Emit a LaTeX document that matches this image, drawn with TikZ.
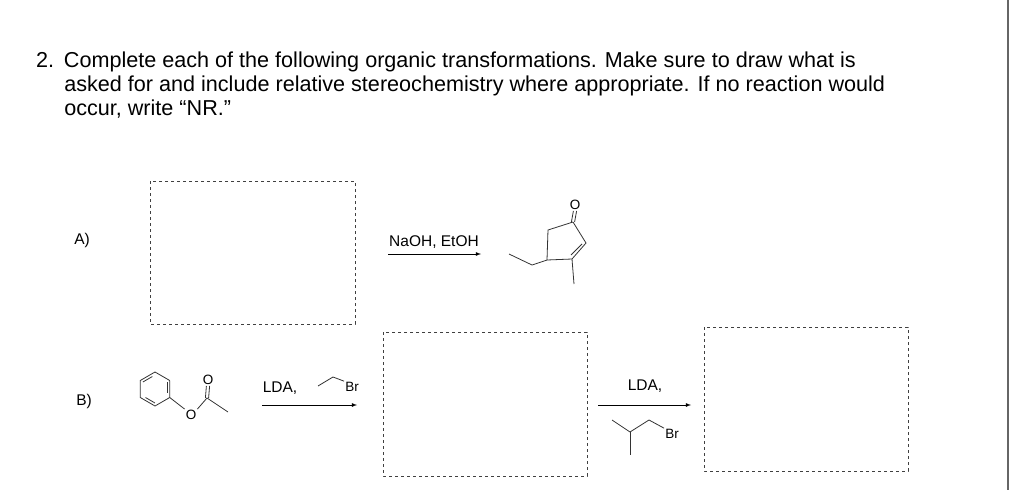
\documentclass[tikz,border=0pt]{standalone}
\usetikzlibrary{calc}
\usepackage{fontspec}
\setmainfont{Liberation Sans}
\begin{document}
\begin{tikzpicture}[x=1pt,y=-1pt,
  box/.style={draw=black!75,dashed,dash pattern=on 3pt off 3pt,line width=0.6pt},
  bond/.style={line width=0.8pt,black!80},
  rxn/.style={-latex,line width=0.8pt},
  lbl/.style={font=\fontsize{15.5}{18}\selectfont,inner sep=0pt},
  atom/.style={font=\fontsize{13.5}{15}\selectfont,inner sep=1pt}]
\useasboundingbox (0,0) rectangle (1010,490);
\draw[black!60,line width=1.5pt] (1008,0) -- (1008,490);
\node[anchor=north west,align=left,inner sep=0pt,font=\fontsize{21.6}{24}\selectfont] (q) at (36,52)
 {2.\hspace{0.45em}Complete each of the following organic transformations. Make sure to draw what is\\
 \hspace{1.3em}asked for and include relative stereochemistry where appropriate. If no reaction would\\
 \hspace{1.3em}occur, write “NR.”};
\node[lbl] (la) at (82,240) {A)};
\node[lbl] (lb) at (84,401) {B)};
% boxes
\draw[box] (150,181) rectangle (355,324);
\draw[box] (383,332) rectangle (587,476);
\draw[box] (704,327) rectangle (908,471);
% arrow A
\coordinate (a1) at (388,254); \coordinate (a2) at (481,254);
\draw[rxn] (a1) -- (a2);
\node[lbl] (na) at (434,242) {NaOH, EtOH};
% product A
\coordinate (c1) at (573,222); \coordinate (c2) at (586,243); \coordinate (c3) at (572,259);
\coordinate (c4) at (547,260); \coordinate (c5) at (548,230);
\node[atom] (o1) at (575,205) {O};
\draw[bond] (c1)--(c2)--(c3)--(c4)--(c5)--(c1);
\draw[bond] ($(c2)+(-4,1)$) -- ($(c3)+(-1,-4)$);
\draw[bond] ($(c1)+(-1.6,0)$) -- ($(o1.south)+(-1.6,0)$);
\draw[bond] ($(c1)+(1.6,0)$) -- ($(o1.south)+(1.6,0)$);
\coordinate (m1) at (574,284); \draw[bond] (c3)--(m1);
\coordinate (e1) at (532,265); \coordinate (e2) at (509,254);
\draw[bond] (c4)--(e1)--(e2);
% reactant B
\foreach \i in {0,...,5}{\coordinate (r\i) at ($(155,389)+(30+60*\i:17 and -17)$);}
\draw[bond] (r0)--(r1)--(r2)--(r3)--(r4)--(r5)--(r0);
\draw[bond] ($(r1)!0.18!(r2)+(0,3)$) -- ($(r2)!0.18!(r1)+(0,3)$);
\draw[bond] ($(r3)!0.18!(r4)+(2.6,-1.5)$) -- ($(r4)!0.18!(r3)+(2.6,-1.5)$);
\draw[bond] ($(r5)!0.18!(r0)+(-2.6,-1.5)$) -- ($(r0)!0.18!(r5)+(-2.6,-1.5)$);
\node[atom] (o2) at (191,415) {O};
\coordinate (k1) at (207,398); \node[atom] (o3) at (208,380) {O};
\coordinate (k2) at (228,412);
\draw[bond] (r5) -- (o2.north west); \draw[bond] (o2.north east) -- (k1) -- (k2);
\draw[bond] ($(k1)+(-1.6,0)$) -- ($(o3.south)+(-1.6,0)$);
\draw[bond] ($(k1)+(1.6,0)$) -- ($(o3.south)+(1.6,0)$);
% arrow B1
\coordinate (b1) at (262,405); \coordinate (b2) at (357,405);
\draw[rxn] (b1) -- (b2);
\node[lbl] (lda1) at (280,388) {LDA,};
\coordinate (eb1) at (318,386); \coordinate (eb2) at (333,377);
\node[atom] (br1) at (352,387) {Br};
\draw[bond] (eb1)--(eb2)--(br1.north west);
% arrow B2
\coordinate (d1) at (598,405); \coordinate (d2) at (691,405);
\draw[rxn] (d1) -- (d2);
\node[lbl] (lda2) at (645,386) {LDA,};
\coordinate (ib1) at (612,420); \coordinate (ib2) at (630,432); \coordinate (ib3) at (649,420);
\coordinate (ib4) at (630,455);
\node[atom] (br2) at (672,434) {Br};
\draw[bond] (ib1)--(ib2)--(ib3)--(br2.north west); \draw[bond] (ib2)--(ib4);
\end{tikzpicture}
\end{document}
